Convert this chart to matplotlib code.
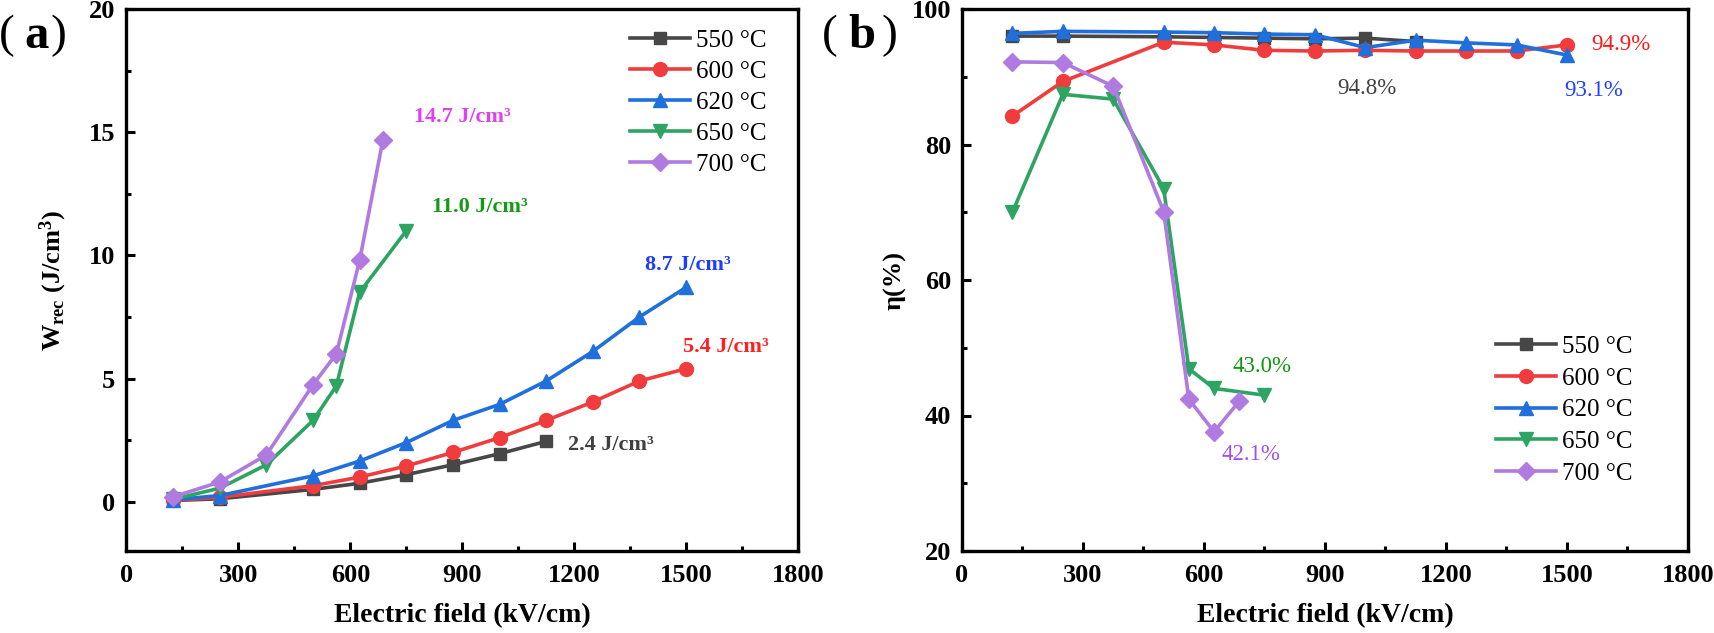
import matplotlib
matplotlib.use("Agg")
import matplotlib.pyplot as plt
from matplotlib.ticker import MultipleLocator

plt.rcParams['font.family'] = ['Liberation Serif', 'Noto Sans CJK SC', 'DejaVu Sans']
plt.rcParams['mathtext.fontset'] = 'custom'
plt.rcParams['mathtext.rm'] = 'Liberation Serif'
plt.rcParams['mathtext.bf'] = 'Liberation Serif:bold'
plt.rcParams['mathtext.it'] = 'Liberation Serif:italic'

# ---------------- data ----------------
temps = ['550 °C', '600 °C', '620 °C', '650 °C', '700 °C']
colors = ['#474747', '#f03c3c', '#1f6fdc', '#2ea462', '#b07ae0']
markers = ['s', 'o', '^', 'v', 'D']
msizes = [8, 10, 10, 10, 9]

# (a) recoverable energy density
xa_550 = [125, 250, 500, 625, 750, 875, 1000, 1125]
ya_550 = [0.05, 0.12, 0.5, 0.75, 1.1, 1.5, 1.95, 2.45]
xa_600 = [125, 250, 500, 625, 750, 875, 1000, 1125, 1250, 1375, 1500]
ya_600 = [0.05, 0.18, 0.65, 1.0, 1.45, 2.0, 2.6, 3.3, 4.05, 4.9, 5.4]
xa_620 = [125, 250, 500, 625, 750, 875, 1000, 1125, 1250, 1375, 1500]
ya_620 = [0.08, 0.25, 1.05, 1.65, 2.4, 3.3, 3.95, 4.9, 6.1, 7.5, 8.7]
xa_650 = [125, 250, 375, 500, 562.5, 625, 750]
ya_650 = [0.1, 0.55, 1.5, 3.3, 4.7, 8.5, 11.0]
xa_700 = [125, 250, 375, 500, 562.5, 625, 687.5]
ya_700 = [0.2, 0.8, 1.9, 4.75, 6.0, 9.8, 14.7]

# (b) efficiency
xb_550 = [125, 250, 500, 625, 750, 875, 1000, 1125]
yb_550 = [96.0, 96.0, 95.9, 95.8, 95.7, 95.6, 95.7, 95.2]
xb_600 = [125, 250, 500, 625, 750, 875, 1000, 1125, 1250, 1375, 1500]
yb_600 = [84.2, 89.3, 95.1, 94.7, 93.9, 93.8, 93.9, 93.8, 93.8, 93.8, 94.7]
xb_620 = [125, 250, 500, 625, 750, 875, 1000, 1125, 1250, 1375, 1500]
yb_620 = [96.4, 96.7, 96.6, 96.5, 96.3, 96.2, 94.3, 95.4, 95.0, 94.7, 93.2]
xb_650 = [125, 250, 375, 500, 562.5, 625, 750]
yb_650 = [70.0, 87.4, 86.7, 73.5, 46.9, 44.0, 43.0]
xb_700 = [125, 250, 375, 500, 562.5, 625, 687.5]
yb_700 = [92.2, 92.1, 88.6, 70.1, 42.4, 37.6, 42.1]

ann_a_text = ['14.7 J/cm³', '11.0 J/cm³', '8.7 J/cm³', '5.4 J/cm³', '2.4 J/cm³']
ann_a_xy = [(772, 15.6), (819, 11.95), (1390, 9.62), (1492, 6.3), (1184, 2.3)]
ann_a_col = ['#e040f0', '#159a15', '#1f3cff', '#ff2020', '#404040']

ann_b_text = ['94.9%', '94.8%', '93.1%', '43.0%', '42.1%']
ann_b_xy = [(1560, 94.8), (930, 88.3), (1492, 88.0), (670, 47.3), (643, 34.2)]
ann_b_col = ['#ff1a1a', '#404040', '#2040ff', '#129612', '#a050f0']

series_a = [(xa_550, ya_550), (xa_600, ya_600), (xa_620, ya_620), (xa_650, ya_650), (xa_700, ya_700)]
series_b = [(xb_550, yb_550), (xb_600, yb_600), (xb_620, yb_620), (xb_650, yb_650), (xb_700, yb_700)]

# ---------------- figure ----------------
W, H = 1715, 633
fig = plt.figure(figsize=(W / 100, H / 100), dpi=100)
AX_BOT, AX_TOP = 551, 9
axa = fig.add_axes([126.5 / W, (H - AX_BOT) / H, 671.5 / W, (AX_BOT - AX_TOP) / H])
axb = fig.add_axes([962 / W, (H - AX_BOT) / H, 726 / W, (AX_BOT - AX_TOP) / H])

TICK_FS = 19
LAB_FS = 20
LEG_FS = 18


def style(ax):
    for s in ax.spines.values():
        s.set_linewidth(2.4)
    ax.tick_params(which='major', direction='in', length=6.5, width=2.2,
                   labelsize=TICK_FS, pad=8)
    ax.tick_params(which='minor', direction='in', length=3.5, width=2.2)
    ax.tick_params(axis='x', which='major', pad=9)
    ax.tick_params(top=False, right=False)
    for lab in ax.get_xticklabels() + ax.get_yticklabels():
        lab.set_fontweight('bold')
    ax.set_xlim(0, 1800)
    ax.xaxis.set_major_locator(MultipleLocator(300))
    ax.xaxis.set_minor_locator(MultipleLocator(150))


for (x, y), c, m, ms, lab in zip(series_a, colors, markers, msizes, temps):
    axa.plot(x, y, color=c, marker=m, markersize=ms, lw=2.6, label=lab)
for (x, y), c, m, ms, lab in zip(series_b, colors, markers, msizes, temps):
    axb.plot(x, y, color=c, marker=m, markersize=ms, lw=2.6, label=lab)

axa.set_ylim(-2, 20)
axa.yaxis.set_major_locator(MultipleLocator(5))
axa.yaxis.set_minor_locator(MultipleLocator(2.5))
axb.set_ylim(20, 100)
axb.yaxis.set_major_locator(MultipleLocator(20))
axb.yaxis.set_minor_locator(MultipleLocator(10))
style(axa)
style(axb)

axa.set_xlabel('Electric field (kV/cm)', fontsize=LAB_FS, fontweight='bold')
axb.set_xlabel('Electric field (kV/cm)', fontsize=LAB_FS, fontweight='bold')
axa.xaxis.set_label_coords(0.5, -0.096)
axb.xaxis.set_label_coords(0.5, -0.096)
axa.set_ylabel(r'$\mathbf{W_{rec}}$ (J/cm$^{\mathbf{3}}$)', fontsize=19, fontweight='bold')
axa.yaxis.set_label_coords(-0.086, 0.5)
axb.set_ylabel('η(%)', fontsize=19, fontweight='bold')
axb.yaxis.set_label_coords(-0.077, 0.5)

for t, (x, y), c in zip(ann_a_text, ann_a_xy, ann_a_col):
    axa.text(x, y, t, color=c, fontsize=16, fontweight='bold', ha='left', va='center')
for t, (x, y), c in zip(ann_b_text, ann_b_xy, ann_b_col):
    axb.text(x, y, t, color=c, fontsize=16.5, ha='left', va='center')

leg_kw = dict(frameon=False, fontsize=LEG_FS, loc='upper left', borderpad=0,
              borderaxespad=0, handlelength=2.4, handletextpad=0.25, numpoints=1)
axa.legend(bbox_to_anchor=(0.75, 0.962), labelspacing=0.34, **leg_kw)
axb.legend(bbox_to_anchor=(0.7355, 0.398), labelspacing=0.37, **leg_kw)

# panel labels
PY = 1 - 36 / H
for letter, xs in (('a', (7, 37, 58)), ('b', (830, 862, 889))):
    fig.text(xs[0] / W, PY, '(', fontsize=34, ha='center', va='center')
    fig.text(xs[1] / W, PY, letter, fontsize=35, fontweight='bold', ha='center', va='center')
    fig.text(xs[2] / W, PY, ')', fontsize=34, ha='center', va='center')

fig.savefig('out.png', dpi=100)
